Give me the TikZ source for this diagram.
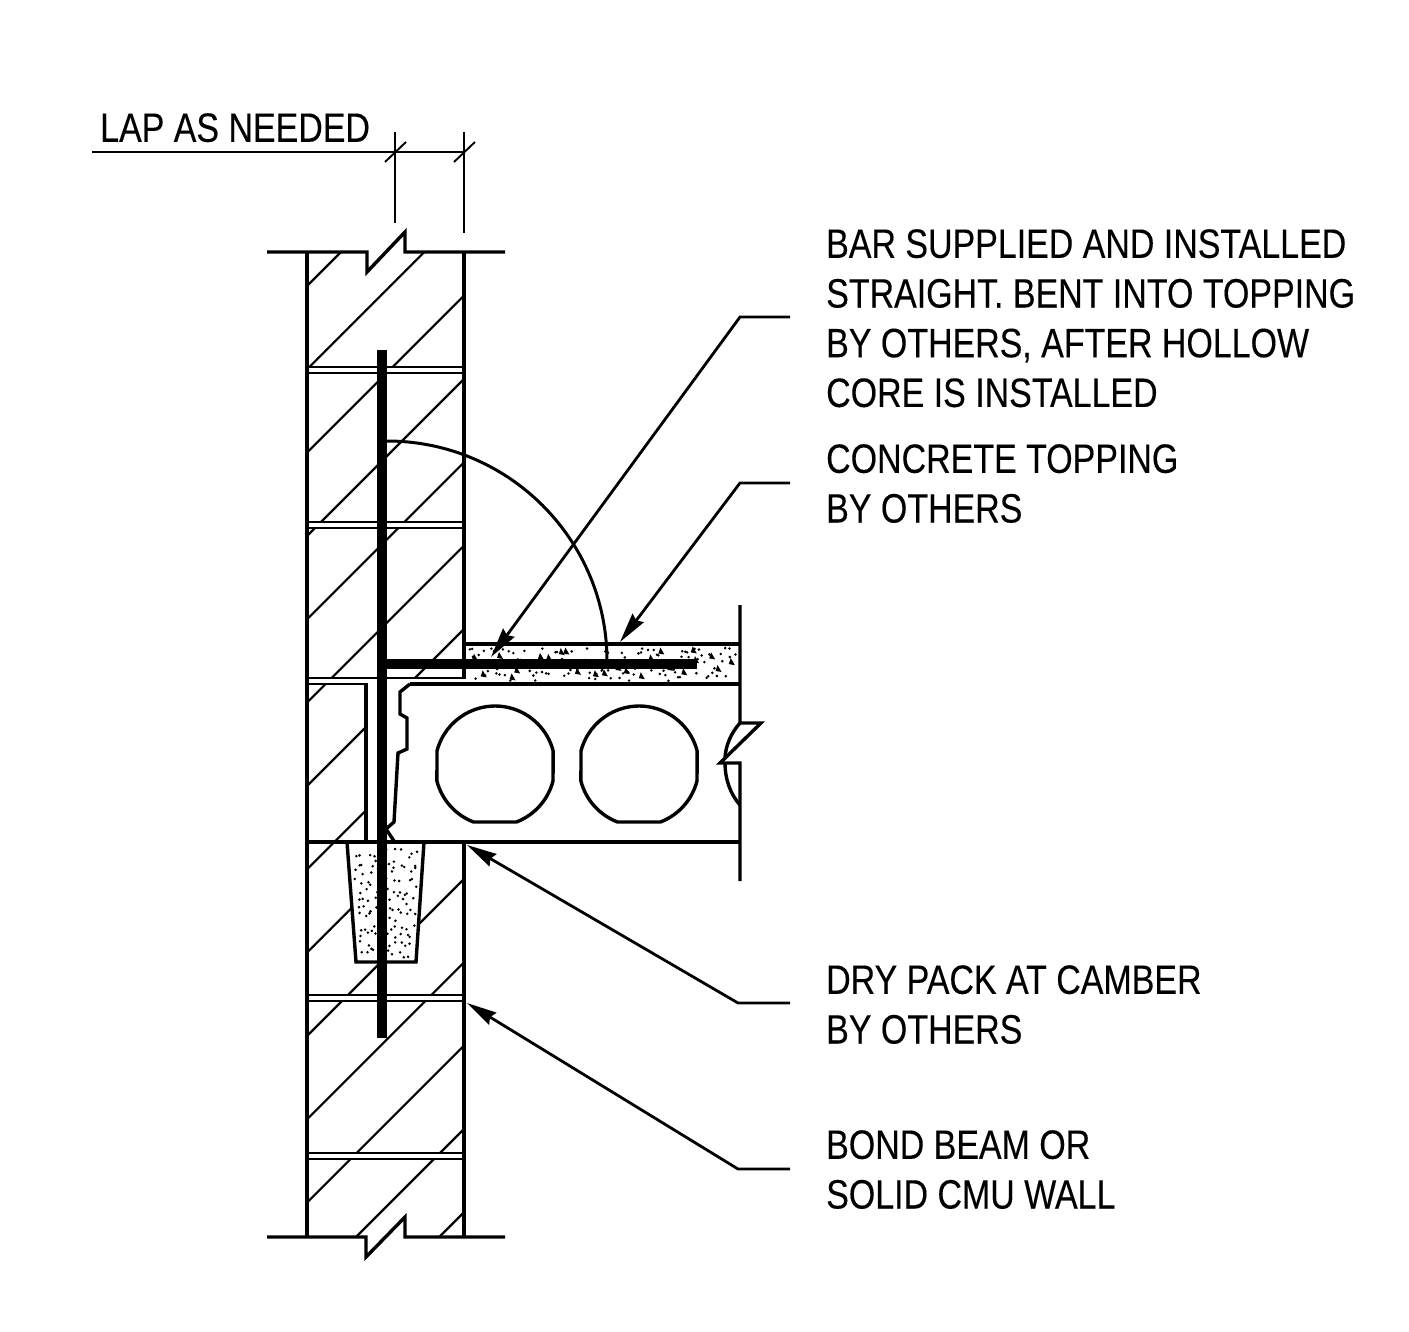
\documentclass[tikz,border=0pt]{standalone}
\usepackage{fontspec}
\setmainfont{Liberation Sans}[FakeStretch=0.828,FakeBold=0.25]
\usetikzlibrary{arrows.meta}

\begin{document}
\begin{tikzpicture}[x=1pt,y=-1pt]
		\tikzstyle{wall} = [line width=3.4pt]
		\tikzstyle{hatch} = [line width=2.2pt]
		\tikzstyle{thin} = [line width=1.9pt]
		\tikzstyle{rebar} = [line width=9.5pt]
		\tikzstyle{leader} = [line width=2.8pt,-{Stealth[length=30pt,width=14pt,inset=3pt]}]
		\tikzstyle{note} = [anchor=north west,inner sep=0pt,align=left,font=\fontsize{41}{49.7}\selectfont]
		\useasboundingbox (0,0) rectangle (1409,1332);

		% notes
		\node[note] (lapnote) at (100,113) {LAP AS NEEDED};
		\node[note] (barnote) at (826,229) {BAR SUPPLIED AND INSTALLED\\STRAIGHT. BENT INTO TOPPING\\BY OTHERS, AFTER HOLLOW\\CORE IS INSTALLED};
		\node[note] (topnote) at (826,444) {CONCRETE TOPPING\\BY OTHERS};
		\node[note] (drynote) at (826,965) {DRY PACK AT CAMBER\\BY OTHERS};
		\node[note] (bondnote) at (826,1130) {BOND BEAM OR\\SOLID CMU WALL};

		% hatching of the wall
		\begin{scope}
			\clip (307,252) rectangle (464,677) (307,685) rectangle (366,842) (307,842) rectangle (464,1237);
			\foreach \k in {0,...,13} { \draw[hatch] ({593+83.33*\k-200},200) -- ({593+83.33*\k-1300},1300); }
		\end{scope}
		\foreach \y in {367,522,995,1153} { \fill[white] (307,\y) rectangle (464,\y+6); \draw[hatch] (307,\y) -- (464,\y); \draw[hatch] (307,\y+6) -- (464,\y+6); }

		% wall
		\draw[wall] (267,252) -- (367,252) -- (367,272) -- (405,232) -- (405,252) -- (505,252);
		\draw[wall] (267,1237) -- (366,1237) -- (366,1257) -- (405,1217) -- (405,1237) -- (505,1237);
		\draw[wall] (307,252) -- (307,1237); \draw[wall] (464,252) -- (464,679); \draw[wall] (464,842) -- (464,1237);
		\draw[line width=2.6pt] (307,678) -- (465,678); \draw[line width=2.6pt] (307,684) -- (366,684); \draw[wall] (366,683) -- (366,842);

		% dry pack
		\draw[wall,fill=white] (347,842) -- (356,962) -- (416,962) -- (424,842);
		\pgfmathsetseed{4217}
		\foreach \i in {0,...,119} { \pgfmathsetmacro\t{(mod(\i,12)+rnd)/12} \pgfmathsetmacro\u{(floor(\i/12)+rnd)/10} \fill ({352+\u*68+\t*(7-14*\u)},{848+\t*110}) circle (1.4pt); }

		% topping
		\pgfmathsetseed{905}
		\foreach \i in {0,...,129} { \fill ({468+(\i+rnd)*2.06},{648+rnd*33}) circle (1.4pt); }
		\foreach \i in {0,...,25} { \pgfmathsetmacro\px{470+(\i+rnd)*10.1} \pgfmathsetmacro\py{652+rnd*28} \fill (\px,\py) -- (\px+6,\py+1) -- (\px+2,\py-6) -- cycle; }
		\draw[wall] (464,644) -- (740,644); \draw[wall] (307,842) -- (740,842); \draw[wall] (410,684) -- (740,684);

		% hollow core
		\draw[wall] (410,684) -- (400,692) -- (400,714) -- (407,718) -- (407,749) -- (398,753) -- (394,822) -- (386,829) -- (394,841);
		\foreach \cx in {495,639} { \draw[wall] (\cx-58,751) arc[start angle=194.5,end angle=345.5,radius=60] -- (\cx+58,781) arc[start angle=14.5,end angle=69,radius=60] -- (\cx-21.5,822) arc[start angle=111,end angle=165.5,radius=60] -- cycle; }
		\draw[wall] (740,605) -- (740,723) -- (761,723) -- (720,763) -- (740,763) -- (740,881);
		\draw[wall] (740,723) .. controls (731,733) and (726,745) .. (725,757);
		\draw[wall] (725,763) .. controls (725,780) and (731,795) .. (740,805);

		% bars
		\draw[line width=3pt] (387,441) arc[start angle=-90,end angle=0,radius=220];
		\draw[rebar] (382,350) -- (382,1038);
		\draw[rebar] (382,664) -- (697,664);

		% leaders
		\coordinate (barend) at (790,317); \coordinate (barknee) at (740,317); \coordinate (bartip) at (491,657);
		\coordinate (topend) at (790,483); \coordinate (topknee) at (740,483); \coordinate (toptip) at (620,642);
		\coordinate (dryend) at (790,1003); \coordinate (dryknee) at (738,1003); \coordinate (drytip) at (467,845);
		\coordinate (bondend) at (790,1169); \coordinate (bondknee) at (738,1169); \coordinate (bondtip) at (467,1003);
		\draw[leader] (barend) -- (barknee) -- (bartip);
		\draw[leader] (topend) -- (topknee) -- (toptip);
		\draw[leader] (dryend) -- (dryknee) -- (drytip);
		\draw[leader] (bondend) -- (bondknee) -- (bondtip);

		% lap dimension
		\coordinate (lapstart) at (92,152); \coordinate (lapleft) at (395,152); \coordinate (lapright) at (464,152);
		\draw[thin] (lapstart) -- (lapright);
		\draw[thin] (395,132) -- (395,223); \draw[thin] (464,132) -- (464,233);
		\draw[thin] (385,162) -- (406,142); \draw[thin] (454,162) -- (475,142);
\end{tikzpicture}
\end{document}
